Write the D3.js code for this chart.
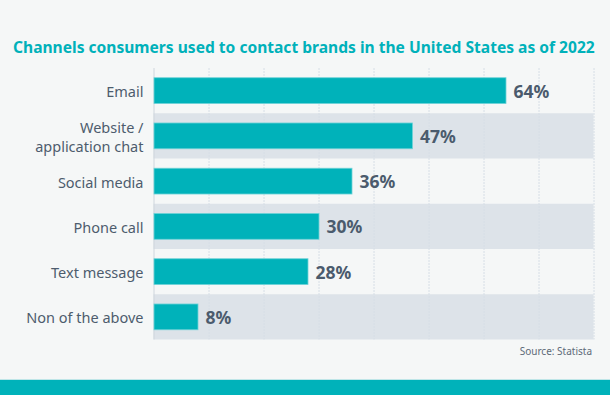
<!DOCTYPE html>
<html>
<head>
<meta charset="utf-8">
<script src="https://cdn.jsdelivr.net/npm/d3@7"></script>
<style>
  html, body { margin: 0; padding: 0; background: #f5f7f7; }
  svg { display: block; font-family: "Noto Sans", "Open Sans", sans-serif; }
</style>
</head>
<body>
<div id="chart"></div>
<script>
// chart data
const categories = ["Email", "Website / application chat", "Social media", "Phone call", "Text message", "Non of the above"];
const shares = [64, 47, 36, 30, 28, 8];
const xTicks = [0, 10, 20, 30, 40, 50, 60, 70, 80];

const width = 610, height = 395;
const margin = { top: 68, right: 16.5, bottom: 55.5, left: 153.5 };
const innerW = width - margin.left - margin.right;
const innerH = height - margin.top - margin.bottom;

const svg = d3.select("#chart").append("svg")
  .attr("width", width)
  .attr("height", height);

svg.append("rect")
  .attr("width", width).attr("height", height)
  .attr("fill", "#f5f7f7");

// Title - font size fitted to the reference width
const title = svg.append("text")
  .attr("x", 13)
  .attr("y", 52.5)
  .style("font-size", "16px")
  .style("font-weight", "bold")
  .style("fill", "#00b1ba")
  .text("Channels consumers used to contact brands in the United States as of 2022");
const tw = title.node().getComputedTextLength();
title.style("font-size", (16 * 582 / tw) + "px");

const g = svg.append("g")
  .attr("transform", "translate(" + margin.left + "," + margin.top + ")");

const x = d3.scaleLinear().domain([0, 80]).range([0, innerW]);
const y = d3.scaleBand().domain(categories).range([0, innerH]).paddingInner(0).paddingOuter(0);

// Alternating row bands
g.selectAll(".band")
  .data(categories.filter((d, i) => i % 2 === 1))
  .enter().append("rect")
  .attr("x", 0)
  .attr("y", d => y(d))
  .attr("width", innerW)
  .attr("height", y.bandwidth())
  .attr("fill", "#dde3e9");

// Grid lines
g.append("g")
  .call(d3.axisBottom(x).tickValues(xTicks).tickSize(innerH).tickFormat(""))
  .call(a => a.select(".domain").remove())
  .selectAll("line")
  .attr("stroke", d => d === 0 ? "#cfd6dd" : "#d6dee6")
  .attr("stroke-dasharray", d => d === 0 ? null : "2,1")
  .attr("stroke-width", 1);

// Bars
const barH = y.bandwidth() * 0.57;
g.selectAll(".bar")
  .data(categories)
  .enter().append("rect")
  .attr("class", "bar")
  .attr("x", x(0) + 0.5)
  .attr("y", d => y(d) + (y.bandwidth() - barH) / 2)
  .attr("width", (d, i) => x(shares[i]) - x(0))
  .attr("height", barH)
  .attr("fill", "#00b2ba")
  .attr("stroke", "#6fd3d8")
  .attr("stroke-width", 0.8);

// Value labels
g.selectAll(".val")
  .data(categories)
  .enter().append("text")
  .attr("x", (d, i) => x(shares[i]) + 8)
  .attr("y", d => y(d) + y.bandwidth() / 2)
  .attr("dy", "0.4em")
  .style("font-size", "17.5px")
  .style("font-weight", "bold")
  .style("fill", "#4b5b6d")
  .text((d, i) => shares[i] + "%");

// Category labels
const labelLines = {
  "Website / application chat": ["Website /", "application chat"]
};
categories.forEach(c => {
  const lines = labelLines[c] || [c];
  const cy = y(c) + y.bandwidth() / 2;
  const lh = 19.5;
  lines.forEach((l, k) => {
    g.append("text")
      .attr("text-anchor", "end")
      .attr("x", -10)
      .attr("y", cy + (k - (lines.length - 1) / 2) * lh + 6.5)
      .style("font-size", "14.5px")
      .style("fill", "#4d5c6d")
      .text(l);
  });
});

// Source
svg.append("text")
  .attr("x", 592)
  .attr("y", 354.5)
  .attr("text-anchor", "end")
  .style("font-size", "10px")
  .style("fill", "#5d6a78")
  .text("Source: Statista");

// Bottom strip
svg.append("rect")
  .attr("x", 0).attr("y", 379)
  .attr("width", width).attr("height", 1)
  .attr("fill", "#bfe6e8");
svg.append("rect")
  .attr("x", 0).attr("y", 380)
  .attr("width", width).attr("height", 15)
  .attr("fill", "#00b2ba");
</script>
</body>
</html>
